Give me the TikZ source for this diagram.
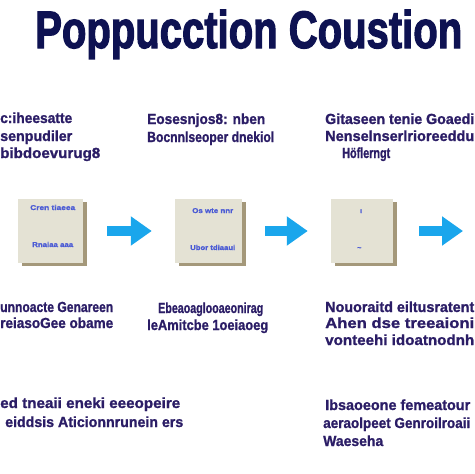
\documentclass[tikz,border=0pt]{standalone}
\usepackage{graphicx}
\usepackage{fontspec}
\setmainfont{Liberation Sans}
\newfontfamily\headfont[FakeBold=2.5]{Liberation Sans Bold}
\newfontfamily\notefont[FakeBold=1.2]{Liberation Sans Bold}
\usetikzlibrary{arrows.meta,shadows}

\definecolor{headink}{HTML}{0E1252}
\definecolor{noteink}{HTML}{2B1D66}
\definecolor{flowblue}{HTML}{1AA6EC}
\definecolor{panelfill}{HTML}{E4E2D4}
\definecolor{panelshade}{HTML}{A4987A}
\definecolor{tagblue}{HTML}{4B5BD4}

\newlength\pxu
\setlength\pxu{0.03cm}

\tikzset{
  heading/.style={anchor=base west, inner sep=0pt, text=headink,
    font=\headfont\fontsize{45}{50}\selectfont},
  note/.style={anchor=base west, inner sep=0pt, text=noteink,
    font=\notefont\fontsize{12.5}{14}\selectfont},
  tag/.style={anchor=base west, inner sep=0pt, text=tagblue,
    font=\notefont\fontsize{6}{7}\selectfont},
  panel/.style={fill=panelfill, inner sep=0pt, minimum height=64\pxu,
    drop shadow={shadow xshift=4\pxu, shadow yshift=-3\pxu,
      fill=panelshade, opacity=1}},
  flow/.style={draw=flowblue, line width=0.3cm,
    -{Triangle[length=0.63cm, width=0.84cm]}}
}

\begin{document}
\begin{tikzpicture}[x=0.03cm, y=-0.03cm]
  \path[use as bounding box, fill=white] (0,0) rectangle (474,474);

  \node[heading] (title) at (35,48)
    {\resizebox{427\pxu}{\height}{Poppucction Coustion}};

  % text lines: x / baseline / width / text
  \foreach \lx/\ly/\lw/\lt [count=\n] in {
      0/123/72/{c:iheesatte},
      0/141/72/{senpudiler},
      0/158/100/{bibdoevurug8},
      147/124/118/{Eosesnjos8: nben},
      147/142/127/{Bocnnlseoper dnekiol},
      325/124/149/{Gitaseen tenie Goaedi},
      325/141/149/{Nenselnserlrioreeddu},
      342/158/48/{H\"oflerngt},
      0/312/113/{unnoacte Genareen},
      0/328/113/{reiasoGee obame},
      158/313/105/{Ebeaoaglooaeonirag},
      147/330/121/{leAmitcbe 1oeiaoeg},
      325/312/149/{Nouoraitd eiltusratent},
      325/328/149/{Ahen dse treeaioni},
      325/345/149/{vonteehi idoatnodnh},
      0/408/180/{ed tneaii eneki eeeopeire},
      5/427/178/{eiddsis Aticionnrunein ers},
      325/410/145/{Ibsaoeone femeatour},
      323/428/147/{aeraolpeet Genroilroaii},
      323/446/60/{Waeseha}} {
    \node[note] (line\n) at (\lx,\ly) {\resizebox{\lw\pxu}{\height}{\lt}};
  }

  % panels
  \foreach \bx/\bw [count=\n] in {50.5/65, 208.5/67, 362/62} {
    \node[panel, minimum width=\bw\pxu] (b\n) at (\bx,231) {};
  }

  \node[tag] (t1) at (30,210) {\resizebox{45\pxu}{\height}{Cren tiaeea}};
  \node[tag] (t2) at (32,247) {\resizebox{41\pxu}{\height}{Rnaiaa aaa}};
  \node[tag] (t3) at (192,213) {\resizebox{41\pxu}{\height}{Os wte nnr}};
  \node[tag] (t4) at (190,250) {\resizebox{45\pxu}{\height}{Ubor tdiaaui}};
  \node[tag] (t5) at (360,213) {ı};
  \node[tag] (t6) at (357,250) {\textasciitilde};

  % arrows
  \coordinate (tip) at (463,231);
  \draw[flow, shorten <=0.72cm, shorten >=0.69cm] (b1.east) -- (b2.west);
  \draw[flow, shorten <=0.69cm, shorten >=0.69cm] (b2.east) -- (b3.west);
  \draw[flow, shorten <=0.78cm] (b3.east) -- (tip);
\end{tikzpicture}
\end{document}
